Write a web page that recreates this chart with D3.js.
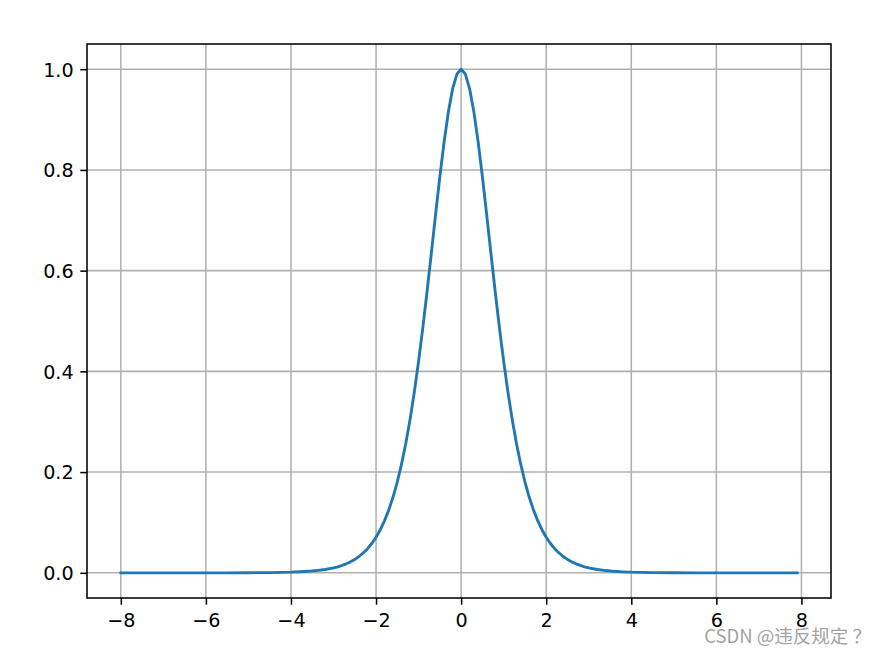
<!DOCTYPE html>
<html>
<head>
<meta charset="utf-8">
<script src="https://d3js.org/d3.v7.min.js"></script>
<style>
  body { margin: 0; background: #fff; }
  svg { display: block; }
</style>
</head>
<body>
<div id="chart"></div>
<script>
var xValues = [-8, -7.5, -7, -6.5, -6, -5.5, -5, -4.5, -4, -3.8, -3.6, -3.4, -3.2,
  -3, -2.9, -2.8, -2.7, -2.6, -2.5, -2.4, -2.3, -2.2, -2.1,
  -2, -1.9, -1.8, -1.7, -1.6, -1.5, -1.4, -1.3, -1.2, -1.1,
  -1, -0.9, -0.8, -0.7, -0.6, -0.5, -0.4, -0.3, -0.2, -0.1,
  0, 0.1, 0.2, 0.3, 0.4, 0.5, 0.6, 0.7, 0.8, 0.9,
  1, 1.1, 1.2, 1.3, 1.4, 1.5, 1.6, 1.7, 1.8, 1.9,
  2, 2.1, 2.2, 2.3, 2.4, 2.5, 2.6, 2.7, 2.8, 2.9,
  3, 3.2, 3.4, 3.6, 3.8, 4, 4.5, 5, 5.5, 6, 6.5, 7, 7.5, 7.9];
var yValues = [0, 0, 0, 0, 0, 0, 0.0002, 0.0005, 0.0013, 0.002, 0.003, 0.0045, 0.0066,
  0.0099, 0.012, 0.0147, 0.0179, 0.0218, 0.0266, 0.0324, 0.0394, 0.0479, 0.0582,
  0.0707, 0.0856, 0.1036, 0.125, 0.1505, 0.1807, 0.2162, 0.2574, 0.305, 0.3592,
  0.42, 0.4869, 0.5591, 0.6347, 0.7116, 0.7865, 0.8556, 0.9151, 0.961, 0.9901,
  1, 0.9901, 0.961, 0.9151, 0.8556, 0.7865, 0.7116, 0.6347, 0.5591, 0.4869,
  0.42, 0.3592, 0.305, 0.2574, 0.2162, 0.1807, 0.1505, 0.125, 0.1036, 0.0856,
  0.0707, 0.0582, 0.0479, 0.0394, 0.0324, 0.0266, 0.0218, 0.0179, 0.0147, 0.012,
  0.0099, 0.0066, 0.0045, 0.003, 0.002, 0.0013, 0.0005, 0.0002, 0, 0, 0, 0, 0, 0];
var xTicks = [-8, -6, -4, -2, 0, 2, 4, 6, 8];
var yTicks = [0.0, 0.2, 0.4, 0.6, 0.8, 1.0];

function init() {
    var w = 885;
    var h = 654;
    var margin = {left: 87, right: 54, top: 44, bottom: 56};
    var iw = w - margin.left - margin.right;
    var ih = h - margin.top - margin.bottom;
    var pt = 138 / 72; // pixels per point of the original figure

    var svg = d3.select("#chart")
                .append("svg")
                .attr("width", w)
                .attr("height", h);

    var g = svg.append("g")
        .attr("transform", "translate(" + margin.left + "," + margin.top + ")");

    // matplotlib style 5% margins around the data
    var xMin = d3.min(xValues), xMax = d3.max(xValues);
    var xPad = (xMax - xMin) * 0.05;
    var xScale = d3.scaleLinear()
        .domain([xMin - xPad, xMax + xPad])
        .range([0, iw]);

    var yScale = d3.scaleLinear()
        .domain([-0.05, 1.05])
        .range([ih, 0]);

    // grid lines
    g.append("g").selectAll("line")
        .data(xTicks)
        .enter().append("line")
        .attr("x1", function(d) { return xScale(d); })
        .attr("x2", function(d) { return xScale(d); })
        .attr("y1", 0).attr("y2", ih)
        .attr("stroke", "#b0b0b0").attr("stroke-width", 0.8 * pt);

    g.append("g").selectAll("line")
        .data(yTicks)
        .enter().append("line")
        .attr("y1", function(d) { return yScale(d); })
        .attr("y2", function(d) { return yScale(d); })
        .attr("x1", 0).attr("x2", iw)
        .attr("stroke", "#b0b0b0").attr("stroke-width", 0.8 * pt);

    // the curve
    var line = d3.line()
        .x(function(d, i) { return xScale(xValues[i]); })
        .y(function(d) { return yScale(d); });

    g.append("path")
        .datum(yValues)
        .attr("d", line)
        .attr("fill", "none")
        .attr("stroke", "#1f77b4")
        .attr("stroke-width", 1.5 * pt)
        .attr("stroke-linejoin", "round")
        .attr("stroke-linecap", "square");

    // axes
    var xAxis = g.append("g")
        .attr("transform", "translate(0," + ih + ")")
        .call(d3.axisBottom(xScale)
            .tickValues(xTicks)
            .tickSizeInner(3.5 * pt).tickSizeOuter(0).tickPadding(3.5 * pt)
            .tickFormat(function(d) { return d < 0 ? "\u2212" + Math.abs(d) : d; }));

    var yAxis = g.append("g")
        .call(d3.axisLeft(yScale)
            .tickValues(yTicks)
            .tickSizeInner(3.5 * pt).tickSizeOuter(0).tickPadding(3.5 * pt)
            .tickFormat(d3.format(".1f")));

    [xAxis, yAxis].forEach(function(a) {
        a.attr("font-family", "'DejaVu Sans', sans-serif").attr("font-size", 10 * pt);
        a.select(".domain").remove();
        a.selectAll(".tick line").attr("stroke", "#000").attr("stroke-width", 0.8 * pt);
        a.selectAll(".tick text").attr("fill", "#000");
    });
    xAxis.selectAll(".tick text").attr("dy", "0.82em");
    yAxis.selectAll(".tick text").attr("dy", "0.36em");

    // frame
    g.append("rect")
        .attr("width", iw).attr("height", ih)
        .attr("fill", "none")
        .attr("stroke", "#000")
        .attr("stroke-width", 0.8 * pt);

    // watermark
    svg.append("text")
        .attr("x", 871).attr("y", 643)
        .attr("text-anchor", "end")
        .attr("font-family", "'Noto Sans CJK SC', sans-serif")
        .attr("font-size", 18.5)
        .attr("fill", "#a3a3a3")
        .text("CSDN @违反规定 \uFF1F");
}

window.onload = init;
</script>
</body>
</html>
